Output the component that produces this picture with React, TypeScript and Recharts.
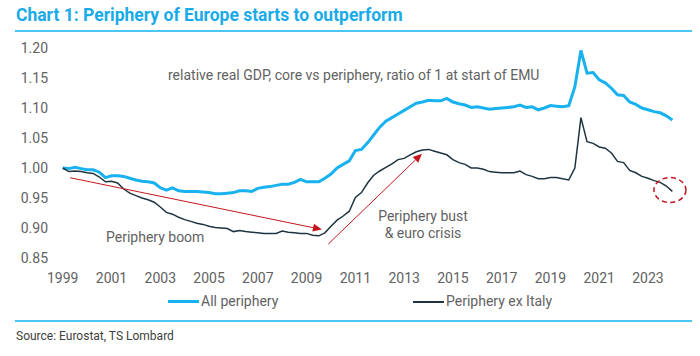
import React from "react";
import { LineChart, Line, XAxis, YAxis, ReferenceLine, ReferenceDot } from "recharts";

// quarterly, 1999Q1 .. 2024Q1
const startYear = 1999;

const allPeriphery = [
  1.0, 0.999, 1.001, 0.999, 0.997, 0.997, 0.993, 0.984, 0.987, 0.987,
  0.986, 0.983, 0.98, 0.978, 0.977, 0.975, 0.967, 0.963, 0.967, 0.962,
  0.961, 0.961, 0.961, 0.96, 0.959, 0.957, 0.957, 0.958, 0.959, 0.962,
  0.962, 0.961, 0.966, 0.968, 0.969, 0.971, 0.973, 0.973, 0.976, 0.981,
  0.977, 0.977, 0.977, 0.983, 0.99, 1.0, 1.006, 1.012, 1.029, 1.031,
  1.042, 1.055, 1.068, 1.078, 1.084, 1.09, 1.096, 1.102, 1.108, 1.11,
  1.113, 1.112, 1.112, 1.116, 1.11, 1.107, 1.105, 1.101, 1.102, 1.1,
  1.098, 1.099, 1.1, 1.101, 1.102, 1.105, 1.101, 1.102, 1.097, 1.1,
  1.104, 1.103, 1.102, 1.104, 1.135, 1.196, 1.158, 1.159, 1.147, 1.142,
  1.133, 1.122, 1.121, 1.11, 1.106, 1.1, 1.097, 1.094, 1.092, 1.087,
  1.08,
];

const peripheryExItaly = [
  1.0, 0.994, 0.995, 0.994, 0.992, 0.991, 0.985, 0.977, 0.978, 0.975,
  0.965, 0.958, 0.954, 0.95, 0.947, 0.943, 0.935, 0.926, 0.923, 0.918,
  0.914, 0.911, 0.908, 0.906, 0.903, 0.901, 0.9, 0.899, 0.894, 0.896,
  0.894, 0.893, 0.892, 0.891, 0.891, 0.891, 0.895, 0.893, 0.892, 0.891,
  0.891, 0.888, 0.887, 0.892, 0.903, 0.913, 0.92, 0.928, 0.951, 0.959,
  0.975, 0.988, 0.995, 1.001, 1.007, 1.014, 1.016, 1.022, 1.027, 1.03,
  1.031, 1.028, 1.025, 1.022, 1.014, 1.009, 1.006, 1.0, 1.0, 0.998,
  0.994, 0.993, 0.992, 0.992, 0.992, 0.995, 0.989, 0.986, 0.982, 0.982,
  0.984, 0.984, 0.982, 0.98, 1.0, 1.084, 1.044, 1.041, 1.035, 1.033,
  1.025, 1.011, 1.009, 0.996, 0.992, 0.986, 0.983, 0.979, 0.976, 0.97,
  0.961,
];

const yearTicks = [1999, 2001, 2003, 2005, 2007, 2009, 2011, 2013, 2015, 2017, 2019, 2021, 2023];
const valueTicks = [0.85, 0.9, 0.95, 1.0, 1.05, 1.1, 1.15, 1.2];

// annotation anchors, in data coordinates
const boomArrow = [{ x: 1999.3, y: 0.9838 }, { x: 2009.63, y: 0.8975 }];
const bustArrow = [{ x: 2009.89, y: 0.8733 }, { x: 2013.73, y: 1.0238 }];
const latestPoint = { x: 2023.9, y: 0.9633 };

const data = allPeriphery.map((v, i) => ({
  t: startYear + i / 4,
  all: v,
  exItaly: peripheryExItaly[i],
}));

const BLUE = "#17b2ef";
const DARK = "#1e3440";
const RED = "#c4161c";
const GREY = "#626262";

function Arrow(props: any) {
  const { x1, y1, x2, y2 } = props;
  const ang = Math.atan2(y2 - y1, x2 - x1);
  const len = 9;
  const half = 4;
  const bx = x2 - len * Math.cos(ang);
  const by = y2 - len * Math.sin(ang);
  const px = -Math.sin(ang) * half;
  const py = Math.cos(ang) * half;
  return (
    <g>
      <line x1={x1} y1={y1} x2={bx} y2={by} stroke={RED} strokeWidth={1} />
      <polygon points={`${x2},${y2} ${bx + px},${by + py} ${bx - px},${by - py}`} fill={RED} />
    </g>
  );
}

function DashedRing(props: any) {
  const { cx, cy } = props;
  return <ellipse cx={cx} cy={cy} rx={16} ry={12.5} fill="none" stroke={RED} strokeWidth={1.5} strokeDasharray="5 3.5" />;
}

const textStyle: React.CSSProperties = {
  position: "absolute",
  color: GREY,
  fontSize: 14,
  whiteSpace: "nowrap",
  lineHeight: "17px",
};

export default function App() {
  return (
    <div
      style={{
        position: "absolute",
        left: 0,
        top: 0,
        width: 700,
        height: 356,
        background: "#fff",
        fontFamily: "Roboto, sans-serif",
        overflow: "hidden",
      }}
    >
      <div
        style={{
          position: "absolute",
          left: 16,
          top: 5,
          fontSize: 17.5,
          fontWeight: 700,
          color: "#19abe8",
          whiteSpace: "nowrap",
          lineHeight: "21px",
        }}
      >
        Chart 1: Periphery of Europe starts to outperform
      </div>
      <div style={{ position: "absolute", left: 15, top: 30, width: 677, height: 2, background: "#4cc6f2" }} />

      <LineChart
        width={700}
        height={356}
        data={data}
        margin={{ top: 48, right: 13, left: 0, bottom: 68 }}
        style={{ position: "absolute", left: 0, top: 0 }}
      >
        <XAxis
          dataKey="t"
          type="number"
          domain={[1998.6, 2024.6]}
          ticks={yearTicks}
          axisLine={false}
          tickLine={false}
          tickSize={0}
          tickMargin={15}
          height={30}
          tick={{ fill: GREY, fontSize: 14 }}
          allowDataOverflow
        />
        <YAxis
          type="number"
          domain={[0.85, 1.2]}
          ticks={valueTicks}
          width={53}
          axisLine={false}
          tickLine={false}
          tickSize={0}
          tickMargin={5}
          tick={{ fill: GREY, fontSize: 14 }}
          tickFormatter={(v: number) => v.toFixed(2)}
          allowDataOverflow
        />
        <Line
          type="linear"
          dataKey="all"
          name="All periphery"
          stroke={BLUE}
          strokeWidth={3}
          dot={false}
          isAnimationActive={false}
        />
        <Line
          type="linear"
          dataKey="exItaly"
          name="Periphery ex Italy"
          stroke={DARK}
          strokeWidth={1.5}
          dot={false}
          isAnimationActive={false}
        />
        <ReferenceLine segment={boomArrow} shape={(p: any) => <Arrow {...p} />} />
        <ReferenceLine segment={bustArrow} shape={(p: any) => <Arrow {...p} />} />
        <ReferenceDot x={latestPoint.x} y={latestPoint.y} r={14} shape={(p: any) => <DashedRing {...p} />} />
      </LineChart>

      <div style={{ ...textStyle, left: 168, top: 67 }}>
        relative real GDP, core vs periphery, ratio of 1 at start of EMU
      </div>
      <div style={{ ...textStyle, left: 106, top: 229 }}>Periphery boom</div>
      <div style={{ ...textStyle, left: 373, top: 208, width: 100, textAlign: "center" }}>
        Periphery bust
        <br />& euro crisis
      </div>

      <div style={{ position: "absolute", left: 168, top: 300, width: 31, height: 3, background: BLUE }} />
      <div style={{ ...textStyle, left: 201, top: 293 }}>All periphery</div>
      <div style={{ position: "absolute", left: 413, top: 301, width: 31, height: 1.5, background: DARK }} />
      <div style={{ ...textStyle, left: 446, top: 293 }}>Periphery ex Italy</div>

      <div style={{ position: "absolute", left: 15, top: 320, width: 677, height: 2, background: "#4cc6f2" }} />
      <div style={{ position: "absolute", left: 16, top: 328, fontSize: 12, color: "#404040", whiteSpace: "nowrap", lineHeight: "16px" }}>
        Source: Eurostat, TS Lombard
      </div>
    </div>
  );
}
